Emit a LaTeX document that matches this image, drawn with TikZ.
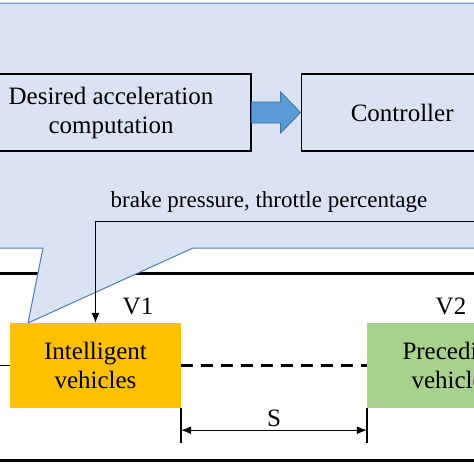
\documentclass[tikz,border=0pt]{standalone}
\usepackage{fontspec}
\setmainfont{Liberation Serif}
\usepackage{tikz}
\usepackage{xcolor}
\usetikzlibrary{positioning}
\usetikzlibrary{arrows.meta,calc}

\definecolor{bulle}{HTML}{DAE3F3}
\definecolor{bullebord}{HTML}{4A7EBB}
\definecolor{fleche}{HTML}{5B9BD5}
\definecolor{flechebord}{HTML}{41719C}
\definecolor{jaune}{HTML}{FFC000}
\definecolor{vert}{HTML}{A9D18E}

\begin{document}
\begin{tikzpicture} [
  x = 1pt, y = -1pt,
  font = \fontsize{25}{29}\selectfont,
  bloc/.style = {draw=black, line width=1.2pt, minimum height=77pt, align=center, inner sep=0pt},
  vehicule/.style = {minimum width=171pt, minimum height=85pt, align=center, inner sep=0pt},
  line/.style = {draw, -{Latex[length=10pt,width=8pt]}, line width=1pt},
  route/.style = {draw, line width=3pt},
]

 \useasboundingbox (0,0) rectangle (474,474);
 \clip (0,0) rectangle (474,474);

 % route
 \path [route] (0,273) -- (474,273);
 \path [route] (0,460) -- (474,460);

 % bulle
 \path [fill=bulle, draw=bullebord, line width=1pt] (-10,3) -- (484,3) -- (484,248) -- (193,248)
   -- (28,323) -- (43,248) -- (-10,248) -- cycle;

 \node [bloc, minimum width=280pt] (desacc) at (111,112.5) {Desired acceleration\\computation};
 \node [bloc, minimum width=202pt, right = 49pt of desacc] (ctrl) {Controller};

 \path [fill=fleche, draw=flechebord, line width=0.8pt]
   ([yshift=10.5pt]desacc.east) -- ++(29,0) -- ++(0,-10) -- (ctrl.west)
   -- ($(desacc.east)+(29,20.5)$) -- ++(0,-10) -- ([yshift=-10.5pt]desacc.east) -- cycle;

 \node [vehicule, fill=jaune] (vi) at (95.5,365.5) {Intelligent\\vehicles};
 \node [vehicule, fill=vert] (vp) at (452.5,365.5) {Preceding\\vehicles};

 \node (v1) at (138,306) {V1};
 \node (v2) at (451,306) {V2};

 \coordinate (cmd) at (484,221);
 \node [font=\fontsize{23}{27}\selectfont] (lbl) at (269,202) {brake pressure, throttle percentage};
 \path [line] (cmd) -| (vi.north);

 \coordinate (g) at (0,365.5);
 \draw [line width=1pt] (g) -- (vi.west);
 \draw [line width=3pt, dash pattern=on 12pt off 8pt] (vi.east) -- (vp.west);

 % distance
 \draw [line width=1.5pt] (vi.south east) -- ++(0,35);
 \draw [line width=1.5pt] (vp.south west) -- ++(0,35);
 \draw [{Latex[length=10pt,width=8pt]}-{Latex[length=10pt,width=8pt]}, line width=1pt]
   ($(vi.south east)+(0,22)$) -- ($(vp.south west)+(0,22)$) node [midway, above=0pt] (s) {S};

\end{tikzpicture}
\end{document}
